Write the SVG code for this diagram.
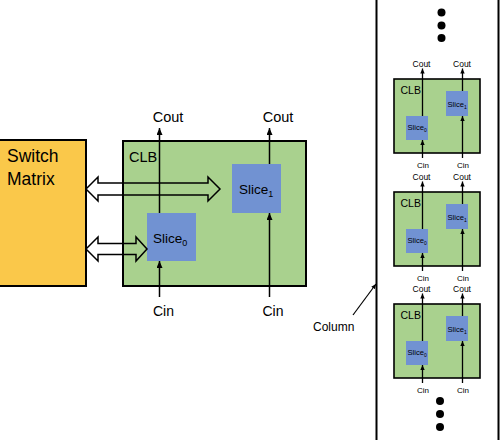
<svg xmlns="http://www.w3.org/2000/svg" width="501" height="440" viewBox="0 0 501 440">
<defs>
<style>
text{font-family:"Liberation Sans",Arial,sans-serif;fill:#000}
.box{stroke:#000;stroke-width:2}
.sm{stroke:#000;stroke-width:1.6}
.clb{fill:#A9D18E}
.slice{fill:#7192D2}
.ln{stroke:#000;stroke-width:1.5;fill:none}
.sl{stroke:#000;stroke-width:1.3;fill:none}
.dbl{fill:none;stroke:#000;stroke-width:1.5;stroke-linejoin:miter}
</style>
<marker id="ah" markerUnits="userSpaceOnUse" markerWidth="8" markerHeight="8" refX="7" refY="3" orient="auto"><path d="M0,0 L7,3 L0,6 Z" fill="#000"/></marker>
<marker id="ahs" markerUnits="userSpaceOnUse" markerWidth="6" markerHeight="6" refX="5" refY="2.2" orient="auto"><path d="M0,0 L5,2.2 L0,4.4 Z" fill="#000"/></marker>
</defs>

<g id="switch-matrix">
<rect x="-1" y="140" width="87" height="146" fill="#FAC84A" class="box"/>
<text x="7" y="162" font-size="17.5">Switch</text>
<text x="7" y="185" font-size="17.5">Matrix</text>
</g>

<g id="clb-main">
<rect x="123" y="141" width="183" height="145" class="clb box"/>
<text x="129" y="162" font-size="14.5">CLB</text>
</g>

<g id="slice0-main">
<rect x="147" y="213" width="49" height="48" class="slice"/>
<text x="153" y="243" font-size="13.5">Slice<tspan font-size="9" dy="3">0</tspan></text>
</g>

<g id="slice1-main">
<rect x="232" y="164" width="49" height="49" class="slice"/>
<text x="239" y="194" font-size="13.5">Slice<tspan font-size="9" dy="3">1</tspan></text>
</g>

<g id="connectors">
<line x1="159.5" y1="213" x2="159.5" y2="128" class="ln" marker-end="url(#ah)"/>
<line x1="269.5" y1="164" x2="269.5" y2="128" class="ln" marker-end="url(#ah)"/>
<line x1="159.5" y1="297" x2="159.5" y2="261" class="ln" marker-end="url(#ah)"/>
<line x1="269.5" y1="297" x2="269.5" y2="213" class="ln" marker-end="url(#ah)"/>
<polygon class="dbl" points="86,189 98,177 98,183 208,183 208,177 220,189 208,201 208,195 98,195 98,201"/>
<polygon class="dbl" points="86,249 98,237 98,243.5 136,243.5 136,237 147,249 136,261 136,254.5 98,254.5 98,261"/>
<line x1="353" y1="315" x2="376" y2="284" stroke="#000" stroke-width="1.2" marker-end="url(#ahs)"/>
</g>

<g id="labels-main">
<text x="168" y="122" font-size="14.5" text-anchor="middle">Cout</text>
<text x="278" y="122" font-size="14.5" text-anchor="middle">Cout</text>
<text x="163.5" y="316" font-size="14" text-anchor="middle">Cin</text>
<text x="273" y="316" font-size="14" text-anchor="middle">Cin</text>
<text x="313" y="331" font-size="12">Column</text>
</g>

<g id="column">
<line x1="376.5" y1="0" x2="376.5" y2="440" stroke="#000" stroke-width="2"/>
<line x1="498.5" y1="0" x2="498.5" y2="440" stroke="#000" stroke-width="2"/>
<circle cx="441.5" cy="12.5" r="4"/>
<circle cx="441.5" cy="25.5" r="4"/>
<circle cx="441.5" cy="38" r="4"/>
<circle cx="440" cy="401" r="4"/>
<circle cx="440" cy="414" r="4"/>
<circle cx="440" cy="427" r="4"/>
</g>

<g id="clb-col-1" transform="translate(0,79)">
<rect x="394" y="0" width="86" height="74" class="clb sm"/>
<text x="400.5" y="15" font-size="10.5">CLB</text>
<rect x="406" y="37" width="22" height="24" class="slice"/>
<text x="407.5" y="51" font-size="7.6">Slice<tspan font-size="5" dy="2">0</tspan></text>
<rect x="446" y="12" width="22" height="25" class="slice"/>
<text x="447.5" y="27.5" font-size="7.6">Slice<tspan font-size="5" dy="2">1</tspan></text>
<line x1="422.5" y1="37" x2="422.5" y2="-10.5" class="sl" marker-end="url(#ahs)"/>
<line x1="462.5" y1="12" x2="462.5" y2="-10.5" class="sl" marker-end="url(#ahs)"/>
<line x1="422.5" y1="79" x2="422.5" y2="61" class="sl" marker-end="url(#ahs)"/>
<line x1="462.5" y1="79" x2="462.5" y2="37" class="sl" marker-end="url(#ahs)"/>
<text x="421.5" y="-12.3" font-size="8.5" text-anchor="middle">Cout</text>
<text x="462" y="-12.3" font-size="8.5" text-anchor="middle">Cout</text>
<text x="423" y="89" font-size="8" text-anchor="middle">Cin</text>
<text x="463" y="89" font-size="8" text-anchor="middle">Cin</text>
</g>

<g id="clb-col-2" transform="translate(0,192)">
<rect x="394" y="0" width="86" height="74" class="clb sm"/>
<text x="400.5" y="15" font-size="10.5">CLB</text>
<rect x="406" y="37" width="22" height="24" class="slice"/>
<text x="407.5" y="51" font-size="7.6">Slice<tspan font-size="5" dy="2">0</tspan></text>
<rect x="446" y="12" width="22" height="25" class="slice"/>
<text x="447.5" y="27.5" font-size="7.6">Slice<tspan font-size="5" dy="2">1</tspan></text>
<line x1="422.5" y1="37" x2="422.5" y2="-10.5" class="sl" marker-end="url(#ahs)"/>
<line x1="462.5" y1="12" x2="462.5" y2="-10.5" class="sl" marker-end="url(#ahs)"/>
<line x1="422.5" y1="79" x2="422.5" y2="61" class="sl" marker-end="url(#ahs)"/>
<line x1="462.5" y1="79" x2="462.5" y2="37" class="sl" marker-end="url(#ahs)"/>
<text x="421.5" y="-12.3" font-size="8.5" text-anchor="middle">Cout</text>
<text x="462" y="-12.3" font-size="8.5" text-anchor="middle">Cout</text>
<text x="423" y="89" font-size="8" text-anchor="middle">Cin</text>
<text x="463" y="89" font-size="8" text-anchor="middle">Cin</text>
</g>

<g id="clb-col-3" transform="translate(0,304)">
<rect x="394" y="0" width="86" height="74" class="clb sm"/>
<text x="400.5" y="15" font-size="10.5">CLB</text>
<rect x="406" y="37" width="22" height="24" class="slice"/>
<text x="407.5" y="51" font-size="7.6">Slice<tspan font-size="5" dy="2">0</tspan></text>
<rect x="446" y="12" width="22" height="25" class="slice"/>
<text x="447.5" y="27.5" font-size="7.6">Slice<tspan font-size="5" dy="2">1</tspan></text>
<line x1="422.5" y1="37" x2="422.5" y2="-10.5" class="sl" marker-end="url(#ahs)"/>
<line x1="462.5" y1="12" x2="462.5" y2="-10.5" class="sl" marker-end="url(#ahs)"/>
<line x1="422.5" y1="79" x2="422.5" y2="61" class="sl" marker-end="url(#ahs)"/>
<line x1="462.5" y1="79" x2="462.5" y2="37" class="sl" marker-end="url(#ahs)"/>
<text x="421.5" y="-12.3" font-size="8.5" text-anchor="middle">Cout</text>
<text x="462" y="-12.3" font-size="8.5" text-anchor="middle">Cout</text>
<text x="423" y="89" font-size="8" text-anchor="middle">Cin</text>
<text x="463" y="89" font-size="8" text-anchor="middle">Cin</text>
</g>
</svg>
